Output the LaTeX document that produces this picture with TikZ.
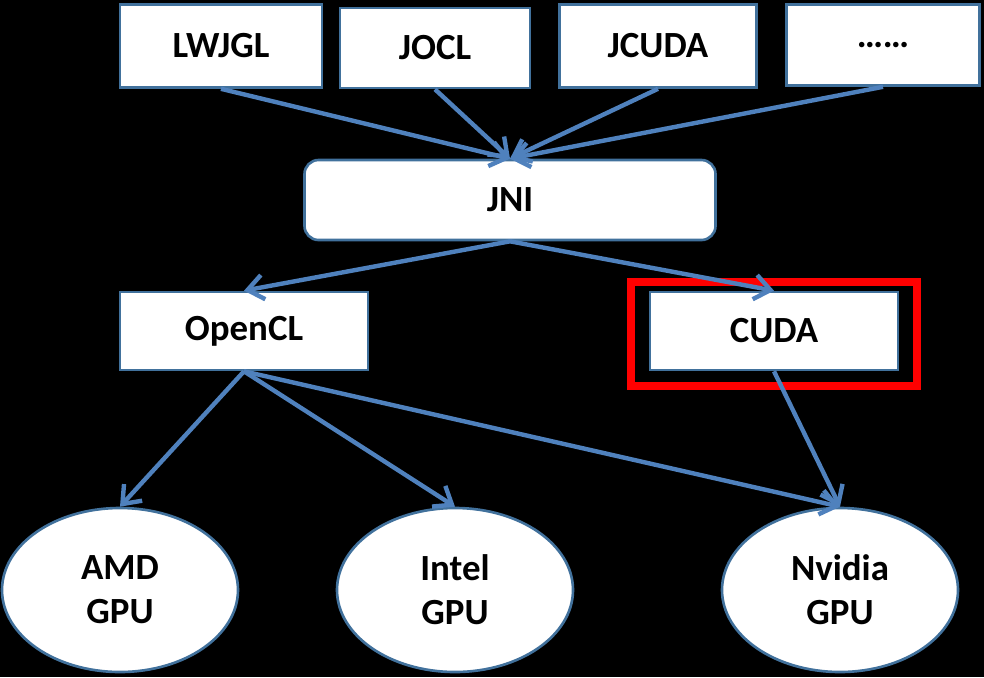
\documentclass[tikz,border=0pt]{standalone}
\usepackage{fontspec}
\setmainfont{Carlito}
\usetikzlibrary{arrows.meta,shapes.geometric}
\definecolor{bx}{HTML}{41719C}
\definecolor{ar}{HTML}{4F81BD}
\begin{document}
\begin{tikzpicture}[x=0.02cm,y=-0.02cm,
 box/.style={draw=bx,line width=1.5pt,fill=white,font=\fontsize{21}{25}\selectfont\bfseries,inner sep=0pt},
 ell/.style={ellipse,draw=bx,line width=1.5pt,fill=white,font=\fontsize{21}{25}\selectfont\bfseries,inner sep=0pt,minimum width=236*0.02cm,minimum height=164*0.02cm,align=center},
 arr/.style={draw=ar,line width=2.5pt,-{Straight Barb[length=9pt,width=14pt,line width=2.5pt]}}]
\fill[black] (0,0) rectangle (984,677);
\node[box,minimum width=202*0.02cm,minimum height=83*0.02cm] (lw) at (221,46) {LWJGL};
\node[box,minimum width=190*0.02cm,minimum height=80*0.02cm] (jo) at (435,48) {JOCL};
\node[box,minimum width=197*0.02cm,minimum height=83*0.02cm] (jc) at (658,46) {JCUDA};
\node[box,minimum width=193*0.02cm,minimum height=81*0.02cm] (dd) at (883,45) {……};
\node[box,rounded corners=8pt,minimum width=411*0.02cm,minimum height=80*0.02cm] (jni) at (510,200) {JNI};
\node[box,minimum width=248*0.02cm,minimum height=78*0.02cm] (ocl) at (244,331) {OpenCL};
\node[box,minimum width=248*0.02cm,minimum height=78*0.02cm] (cu) at (774,331) {CUDA};
\node[draw=red,line width=5pt,minimum width=286*0.02cm,minimum height=104*0.02cm,inner sep=0pt] (red) at (774,334) {};
\node[ell] (amd) at (120,590) {AMD\\GPU};
\node[ell] (intel) at (455,590) {Intel\\GPU};
\node[ell] (nv) at (840,590) {Nvidia\\GPU};
\draw[arr] (lw.south) -- (jni.north);
\draw[arr] (jo.south) -- (jni.north);
\draw[arr] (jc.south) -- (jni.north);
\draw[arr] (dd.south) -- (jni.north);
\draw[arr] (jni.south) -- (ocl.north);
\draw[arr] (jni.south) -- (cu.north);
\draw[arr] (ocl.south) -- (amd.north);
\draw[arr] (ocl.south) -- (intel.north);
\draw[arr] (ocl.south) -- (nv.north);
\draw[arr] (cu.south) -- (nv.north);
\end{tikzpicture}
\end{document}
